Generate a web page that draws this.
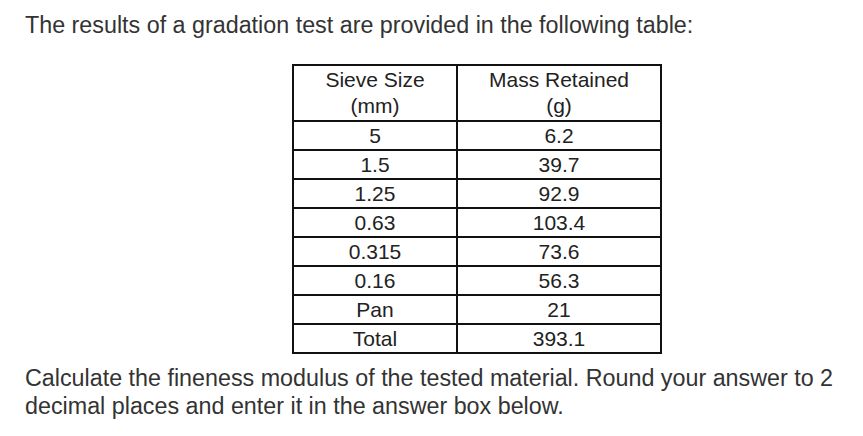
<!DOCTYPE html>
<html><head><meta charset="utf-8">
<script src="https://cdn.jsdelivr.net/npm/chart.js@4"></script>
<style>
body{margin:0;width:863px;height:436px;background:#fff;font-family:"Liberation Sans",Arial,sans-serif;color:#333;position:relative;overflow:hidden}
.t{position:absolute;left:25px;font-size:23.3px;line-height:28px}
table{position:absolute;left:292px;top:64px;border-collapse:collapse;border:2px solid #111}
td{border:2px solid #111;text-align:center;padding:0;height:27px;line-height:24px;font-size:21px;color:#222}
td.a{width:162px}td.b{width:202px}
tr.h td{height:54px;line-height:26px}
</style></head><body>
<div class="t" style="top:11px">The results of a gradation test are provided in the following table:</div>
<table id="tb"></table>
<div class="t" style="top:364px">Calculate the fineness modulus of the tested material. Round your answer to 2<br>decimal places and enter it in the answer box below.</div>
<script>
const headers=["Sieve Size<br>(mm)","Mass Retained<br>(g)"];
const sieves=["5","1.5","1.25","0.63","0.315","0.16","Pan","Total"];
const masses=["6.2","39.7","92.9","103.4","73.6","56.3","21","393.1"];
const tb=document.getElementById('tb');
let h='<tr class="h"><td class="a">'+headers[0]+'</td><td class="b">'+headers[1]+'</td></tr>';
sieves.forEach((s,i)=>{h+='<tr><td class="a">'+s+'</td><td class="b">'+masses[i]+'</td></tr>';});
tb.innerHTML=h;
</script>
</body></html>
